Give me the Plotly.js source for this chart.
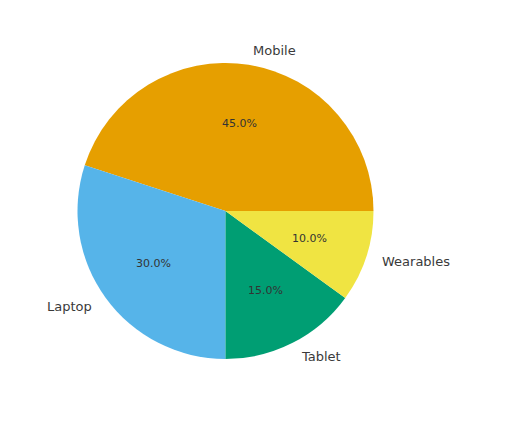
<!DOCTYPE html>
<html>
<head>
<meta charset="utf-8">
<script src="https://cdn.plot.ly/plotly-3.0.1.min.js"></script>
<style>html,body{margin:0;padding:0;background:#fff;}#chart{width:512px;height:426px;}</style>
</head>
<body>
<div id="chart"></div>
<script>
const categories = ["Mobile", "Laptop", "Tablet", "Wearables"];
const shares = [45, 30, 15, 10];
const sliceColors = ["#E69F00", "#56B4E9", "#009E73", "#F0E442"];

const W = 512, H = 426;
const CX = 225.5, CY = 211, R = 148;

const domainX = [(CX - R) / W, (CX + R) / W];
const domainY = [(H - CY - R) / H, (H - CY + R) / H];

const total = shares.reduce((a, b) => a + b, 0);
const annotations = [];
let start = 0;
shares.forEach((v, i) => {
  const frac = v / total;
  const mid = (start + frac / 2) * 2 * Math.PI;
  start += frac;
  const c = Math.cos(mid), s = Math.sin(mid);
  const lx = CX + 1.1 * R * c, ly = CY - 1.1 * R * s;
  annotations.push({
    x: lx / W, y: (H - ly) / H, xref: "paper", yref: "paper",
    text: categories[i], showarrow: false,
    xanchor: c >= 0 ? "left" : "right", yanchor: "middle",
    font: { family: "DejaVu Sans", size: 13, color: "#3a3a3a" }
  });
  const px = CX + 0.6 * R * c, py = CY - 0.6 * R * s;
  annotations.push({
    x: px / W, y: (H - py) / H, xref: "paper", yref: "paper",
    text: (100 * frac).toFixed(1) + "%", showarrow: false,
    xanchor: "center", yanchor: "middle",
    font: { family: "DejaVu Sans", size: 11, color: "#333333" }
  });
});

// first slice (Mobile) must begin at 3 o'clock and run counterclockwise
const firstFrac = shares[0] / total;
const rotationDeg = 90 - firstFrac * 360;

const data = [{
  type: "pie",
  labels: categories,
  values: shares,
  sort: false,
  direction: "counterclockwise",
  rotation: rotationDeg,
  marker: { colors: sliceColors, line: { width: 0 } },
  textinfo: "none",
  hoverinfo: "label+percent",
  domain: { x: domainX, y: domainY },
  automargin: false
}];

const layout = {
  width: W, height: H,
  margin: { l: 0, r: 0, t: 0, b: 0 },
  paper_bgcolor: "#ffffff",
  showlegend: false,
  annotations: annotations
};

Plotly.newPlot("chart", data, layout, { displayModeBar: false, staticPlot: true });
</script>
</body>
</html>
